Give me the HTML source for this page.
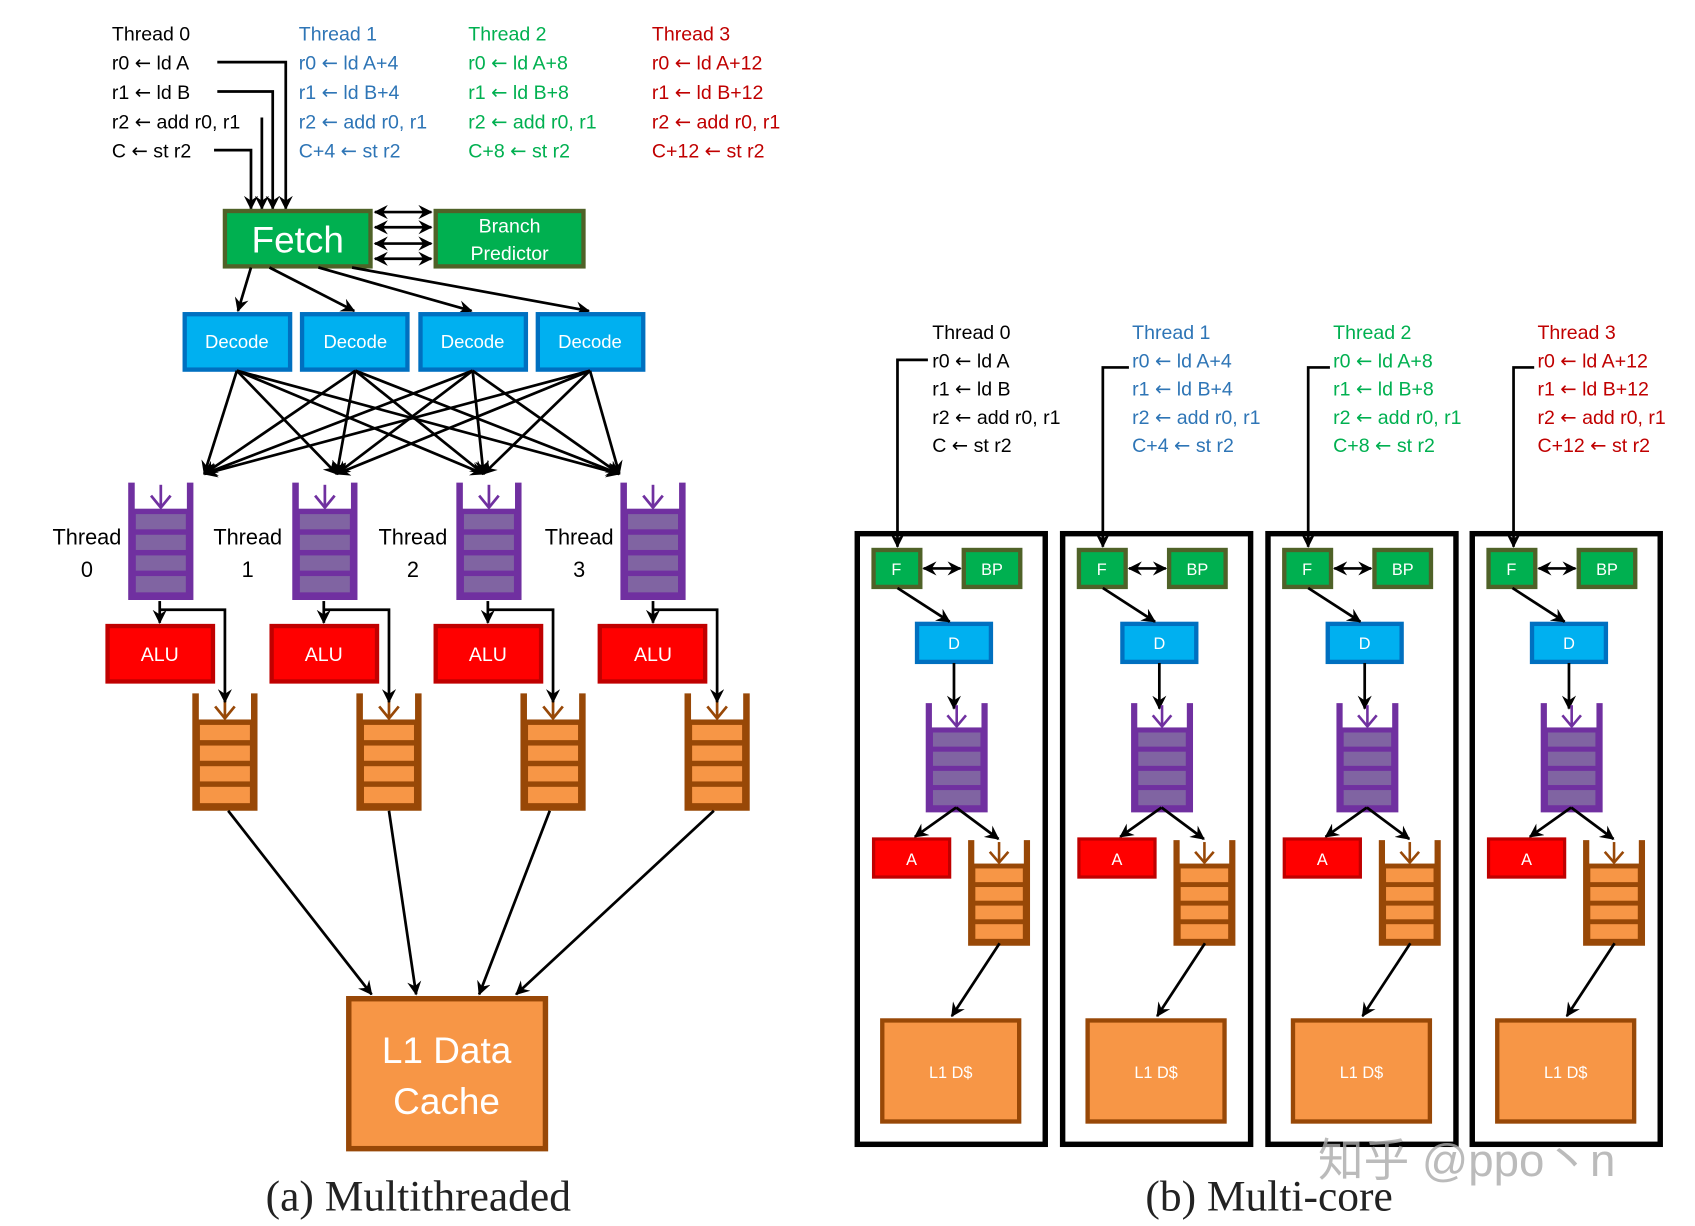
<!DOCTYPE html>
<html><head><meta charset="utf-8"><style>
html,body{margin:0;padding:0;background:#fff;}
svg{display:block;}
text{font-family:"Liberation Sans","Noto Sans CJK SC",sans-serif;}
tspan.a{font-family:"DejaVu Sans",sans-serif;}
text.cap{font-family:"Liberation Serif",serif;}
.w{fill:#fff;text-anchor:middle;}
</style></head><body>
<svg width="1695" height="1226" viewBox="0 0 1560 1128" xmlns="http://www.w3.org/2000/svg">
<defs>
<marker id="ah2" viewBox="0 0 12 12" refX="11" refY="6" markerWidth="13" markerHeight="13" orient="auto-start-reverse" markerUnits="userSpaceOnUse">
<path d="M0,0 L12,6 L0,12 L4,6 Z" fill="#000"/>
</marker>
<g id="pq">
<path d="M3,0 V105 H57 V0" fill="none" stroke="#7030a0" stroke-width="6"/>
<rect x="3" y="24" width="54" height="81" fill="#7030a0"/>
<rect x="7" y="29" width="46" height="14" fill="#8064a2"/>
<rect x="7" y="48" width="46" height="14" fill="#8064a2"/>
<rect x="7" y="67" width="46" height="14" fill="#8064a2"/>
<rect x="7" y="86" width="46" height="15" fill="#8064a2"/>
<line x1="30" y1="2" x2="30" y2="23" stroke="#7030a0" stroke-width="2.5"/>
<polyline points="21,12 30,23 39,12" fill="none" stroke="#7030a0" stroke-width="2.5"/>
</g>
<g id="oq">
<path d="M3,0 V105 H57 V0" fill="none" stroke="#984807" stroke-width="6"/>
<rect x="3" y="24" width="54" height="81" fill="#984807"/>
<rect x="7" y="29" width="46" height="14" fill="#f79646"/>
<rect x="7" y="48" width="46" height="14" fill="#f79646"/>
<rect x="7" y="67" width="46" height="14" fill="#f79646"/>
<rect x="7" y="86" width="46" height="15" fill="#f79646"/>
<line x1="30" y1="2" x2="30" y2="23" stroke="#984807" stroke-width="2.5"/>
<polyline points="21,12 30,23 39,12" fill="none" stroke="#984807" stroke-width="2.5"/>
</g>
<g id="core">
<rect x="793" y="491" width="173" height="562" fill="none" stroke="#000" stroke-width="5"/>
<rect x="808" y="506" width="43" height="34" fill="#00b050" stroke="#4f6228" stroke-width="4"/>
<rect x="891" y="506" width="52" height="34" fill="#00b050" stroke="#4f6228" stroke-width="4"/>
<line x1="854" y1="523" x2="888" y2="523" stroke="#000" stroke-width="2.5" marker-start="url(#ah2)" marker-end="url(#ah2)"/>
<rect x="848" y="574" width="68" height="35" fill="#00b0f0" stroke="#0070c0" stroke-width="4"/>
<line x1="830" y1="541" x2="878" y2="572" stroke="#000" stroke-width="2.5" marker-end="url(#ah2)"/>
<line x1="882" y1="610" x2="882" y2="652" stroke="#000" stroke-width="2.5" marker-end="url(#ah2)"/>
<use href="#pq" transform="translate(856,647) scale(0.95,0.93)"/>
<line x1="884" y1="743" x2="846" y2="770" stroke="#000" stroke-width="2.5" marker-end="url(#ah2)"/>
<line x1="884" y1="743" x2="923" y2="772" stroke="#000" stroke-width="2.5" marker-end="url(#ah2)"/>
<rect x="808" y="772" width="70" height="35" fill="#ff0000" stroke="#c00000" stroke-width="3"/>
<use href="#oq" transform="translate(895,773) scale(0.95,0.9)"/>
<line x1="924" y1="868" x2="880" y2="935" stroke="#000" stroke-width="2.5" marker-end="url(#ah2)"/>
<rect x="816" y="939" width="126" height="93" fill="#f79646" stroke="#984807" stroke-width="4"/>
</g>
</defs>

<!-- LEFT PANEL TEXT -->
<g font-size="18">
<g fill="#000">
<text x="103" y="37">Thread 0</text>
<text x="103" y="64">r0 <tspan class="a">←</tspan> ld A</text>
<text x="103" y="91">r1 <tspan class="a">←</tspan> ld B</text>
<text x="103" y="118">r2 <tspan class="a">←</tspan> add r0, r1</text>
<text x="103" y="145">C <tspan class="a">←</tspan> st r2</text></g>
<g fill="#2e75b6">
<text x="275" y="37">Thread 1</text><text x="275" y="64">r0 <tspan class="a">←</tspan> ld A+4</text><text x="275" y="91">r1 <tspan class="a">←</tspan> ld B+4</text><text x="275" y="118">r2 <tspan class="a">←</tspan> add r0, r1</text><text x="275" y="145">C+4 <tspan class="a">←</tspan> st r2</text></g>
<g fill="#00b050">
<text x="431" y="37">Thread 2</text><text x="431" y="64">r0 <tspan class="a">←</tspan> ld A+8</text><text x="431" y="91">r1 <tspan class="a">←</tspan> ld B+8</text><text x="431" y="118">r2 <tspan class="a">←</tspan> add r0, r1</text><text x="431" y="145">C+8 <tspan class="a">←</tspan> st r2</text></g>
<g fill="#c00000">
<text x="600" y="37">Thread 3</text><text x="600" y="64">r0 <tspan class="a">←</tspan> ld A+12</text><text x="600" y="91">r1 <tspan class="a">←</tspan> ld B+12</text><text x="600" y="118">r2 <tspan class="a">←</tspan> add r0, r1</text><text x="600" y="145">C+12 <tspan class="a">←</tspan> st r2</text></g>
</g>

<g stroke="#000" stroke-width="2.5" fill="none">
<polyline points="200,57 263,57 263,192" marker-end="url(#ah2)"/>
<polyline points="200,84 251,84 251,192" marker-end="url(#ah2)"/>
<polyline points="241,108 241,192" marker-end="url(#ah2)"/>
<polyline points="197,138 231,138 231,192" marker-end="url(#ah2)"/>
</g>

<rect x="207" y="194" width="134" height="51" fill="#00b050" stroke="#4f6228" stroke-width="4"/>
<text x="274" y="232" class="w" font-size="34">Fetch</text>
<rect x="401" y="194" width="136" height="51" fill="#00b050" stroke="#4f6228" stroke-width="4"/>
<text x="469" y="214" class="w" font-size="18">Branch</text>
<text x="469" y="239" class="w" font-size="18">Predictor</text>
<g stroke="#000" stroke-width="2.5">
<line x1="345" y1="195" x2="397" y2="195" marker-start="url(#ah2)" marker-end="url(#ah2)"/>
<line x1="345" y1="209" x2="397" y2="209" marker-start="url(#ah2)" marker-end="url(#ah2)"/>
<line x1="345" y1="224" x2="397" y2="224" marker-start="url(#ah2)" marker-end="url(#ah2)"/>
<line x1="345" y1="238" x2="397" y2="238" marker-start="url(#ah2)" marker-end="url(#ah2)"/>
<line x1="231" y1="246" x2="219" y2="286" marker-end="url(#ah2)"/>
<line x1="248" y1="246" x2="326" y2="286" marker-end="url(#ah2)"/>
<line x1="293" y1="246" x2="434" y2="286" marker-end="url(#ah2)"/>
<line x1="324" y1="246" x2="542" y2="286" marker-end="url(#ah2)"/>
</g>

<g fill="#00b0f0" stroke="#0070c0" stroke-width="4">
<rect x="170" y="289" width="97" height="51"/><rect x="278" y="289" width="97" height="51"/><rect x="387" y="289" width="97" height="51"/><rect x="495" y="289" width="97" height="51"/>
</g>
<g font-size="17"><text x="218" y="320" class="w">Decode</text><text x="327" y="320" class="w">Decode</text><text x="435" y="320" class="w">Decode</text><text x="543" y="320" class="w">Decode</text></g>

<g stroke="#000" stroke-width="2.5">
<line x1="218" y1="341" x2="188" y2="436" marker-end="url(#ah2)"/><line x1="218" y1="341" x2="310" y2="436" marker-end="url(#ah2)"/><line x1="218" y1="341" x2="445" y2="436" marker-end="url(#ah2)"/><line x1="218" y1="341" x2="570" y2="436" marker-end="url(#ah2)"/>
<line x1="327" y1="341" x2="188" y2="436" marker-end="url(#ah2)"/><line x1="327" y1="341" x2="310" y2="436" marker-end="url(#ah2)"/><line x1="327" y1="341" x2="445" y2="436" marker-end="url(#ah2)"/><line x1="327" y1="341" x2="570" y2="436" marker-end="url(#ah2)"/>
<line x1="435" y1="341" x2="188" y2="436" marker-end="url(#ah2)"/><line x1="435" y1="341" x2="310" y2="436" marker-end="url(#ah2)"/><line x1="435" y1="341" x2="445" y2="436" marker-end="url(#ah2)"/><line x1="435" y1="341" x2="570" y2="436" marker-end="url(#ah2)"/>
<line x1="543" y1="341" x2="188" y2="436" marker-end="url(#ah2)"/><line x1="543" y1="341" x2="310" y2="436" marker-end="url(#ah2)"/><line x1="543" y1="341" x2="445" y2="436" marker-end="url(#ah2)"/><line x1="543" y1="341" x2="570" y2="436" marker-end="url(#ah2)"/>
</g>

<use href="#pq" x="118" y="444"/><use href="#pq" x="269" y="444"/><use href="#pq" x="420" y="444"/><use href="#pq" x="571" y="444"/>
<g font-size="20" text-anchor="middle" fill="#000">
<text x="80" y="501">Thread</text><text x="80" y="531">0</text>
<text x="228" y="501">Thread</text><text x="228" y="531">1</text>
<text x="380" y="501">Thread</text><text x="380" y="531">2</text>
<text x="533" y="501">Thread</text><text x="533" y="531">3</text>
</g>

<g fill="#ff0000" stroke="#c00000" stroke-width="4">
<rect x="99" y="576" width="97" height="51"/><rect x="250" y="576" width="97" height="51"/><rect x="401" y="576" width="97" height="51"/><rect x="552" y="576" width="97" height="51"/>
</g>
<g font-size="18"><text x="147" y="608" class="w">ALU</text><text x="298" y="608" class="w">ALU</text><text x="449" y="608" class="w">ALU</text><text x="601" y="608" class="w">ALU</text></g>
<use href="#oq" x="177" y="638"/><use href="#oq" x="328" y="638"/><use href="#oq" x="479" y="638"/><use href="#oq" x="630" y="638"/>

<g stroke="#000" stroke-width="2.5" fill="none">
<line x1="147" y1="553" x2="147" y2="573" marker-end="url(#ah2)"/><polyline points="147,561 207,561 207,646" marker-end="url(#ah2)"/>
<line x1="298" y1="553" x2="298" y2="573" marker-end="url(#ah2)"/><polyline points="298,561 358,561 358,646" marker-end="url(#ah2)"/>
<line x1="449" y1="553" x2="449" y2="573" marker-end="url(#ah2)"/><polyline points="449,561 509,561 509,646" marker-end="url(#ah2)"/>
<line x1="601" y1="553" x2="601" y2="573" marker-end="url(#ah2)"/><polyline points="601,561 660,561 660,646" marker-end="url(#ah2)"/>
<line x1="210" y1="746" x2="342" y2="915" marker-end="url(#ah2)"/>
<line x1="358" y1="746" x2="383" y2="915" marker-end="url(#ah2)"/>
<line x1="506" y1="746" x2="441" y2="915" marker-end="url(#ah2)"/>
<line x1="657" y1="746" x2="475" y2="915" marker-end="url(#ah2)"/>
</g>
<rect x="321" y="919" width="181" height="138" fill="#f79646" stroke="#984807" stroke-width="5"/>
<text x="411" y="978" class="w" font-size="34">L1 Data</text>
<text x="411" y="1025" class="w" font-size="34">Cache</text>

<!-- RIGHT PANEL -->
<g transform="translate(-4,0)">
<use href="#core"/>
<use href="#core" x="189"/>
<use href="#core" x="378"/>
<use href="#core" x="566"/>
<g stroke="#000" stroke-width="2.5" fill="none">
<polyline points="858,331 830,331 830,503" marker-end="url(#ah2)"/>
<polyline points="1043,338 1019,338 1019,503" marker-end="url(#ah2)"/>
<polyline points="1228,338 1208,338 1208,503" marker-end="url(#ah2)"/>
<polyline points="1416,338 1397,338 1397,503" marker-end="url(#ah2)"/>
</g>
<g font-size="15">
<text x="829" y="529" class="w">F</text><text x="917" y="529" class="w">BP</text><text x="882" y="597" class="w">D</text><text x="843" y="796" class="w">A</text><text x="879" y="992" class="w">L1 D$</text>
<text x="1018" y="529" class="w">F</text><text x="1106" y="529" class="w">BP</text><text x="1071" y="597" class="w">D</text><text x="1032" y="796" class="w">A</text><text x="1068" y="992" class="w">L1 D$</text>
<text x="1207" y="529" class="w">F</text><text x="1295" y="529" class="w">BP</text><text x="1260" y="597" class="w">D</text><text x="1221" y="796" class="w">A</text><text x="1257" y="992" class="w">L1 D$</text>
<text x="1395" y="529" class="w">F</text><text x="1483" y="529" class="w">BP</text><text x="1448" y="597" class="w">D</text><text x="1409" y="796" class="w">A</text><text x="1445" y="992" class="w">L1 D$</text>
</g>
<g font-size="18">
<g fill="#000"><text x="862" y="312">Thread 0</text><text x="862" y="338">r0 <tspan class="a">←</tspan> ld A</text><text x="862" y="364">r1 <tspan class="a">←</tspan> ld B</text><text x="862" y="390">r2 <tspan class="a">←</tspan> add r0, r1</text><text x="862" y="416">C <tspan class="a">←</tspan> st r2</text></g>
<g fill="#2e75b6"><text x="1046" y="312">Thread 1</text><text x="1046" y="338">r0 <tspan class="a">←</tspan> ld A+4</text><text x="1046" y="364">r1 <tspan class="a">←</tspan> ld B+4</text><text x="1046" y="390">r2 <tspan class="a">←</tspan> add r0, r1</text><text x="1046" y="416">C+4 <tspan class="a">←</tspan> st r2</text></g>
<g fill="#00b050"><text x="1231" y="312">Thread 2</text><text x="1231" y="338">r0 <tspan class="a">←</tspan> ld A+8</text><text x="1231" y="364">r1 <tspan class="a">←</tspan> ld B+8</text><text x="1231" y="390">r2 <tspan class="a">←</tspan> add r0, r1</text><text x="1231" y="416">C+8 <tspan class="a">←</tspan> st r2</text></g>
<g fill="#c00000"><text x="1419" y="312">Thread 3</text><text x="1419" y="338">r0 <tspan class="a">←</tspan> ld A+12</text><text x="1419" y="364">r1 <tspan class="a">←</tspan> ld B+12</text><text x="1419" y="390">r2 <tspan class="a">←</tspan> add r0, r1</text><text x="1419" y="416">C+12 <tspan class="a">←</tspan> st r2</text></g>
</g>
</g>

<text x="385" y="1114" class="cap" font-size="40" text-anchor="middle" fill="#222">(a) Multithreaded</text>
<text x="1168" y="1114" class="cap" font-size="40" text-anchor="middle" fill="#222">(b) Multi-core</text>
<text x="1213" y="1082" font-size="42" fill="#aaa" fill-opacity="0.8">知乎 @ppo丶n</text>
</svg>
</body></html>
